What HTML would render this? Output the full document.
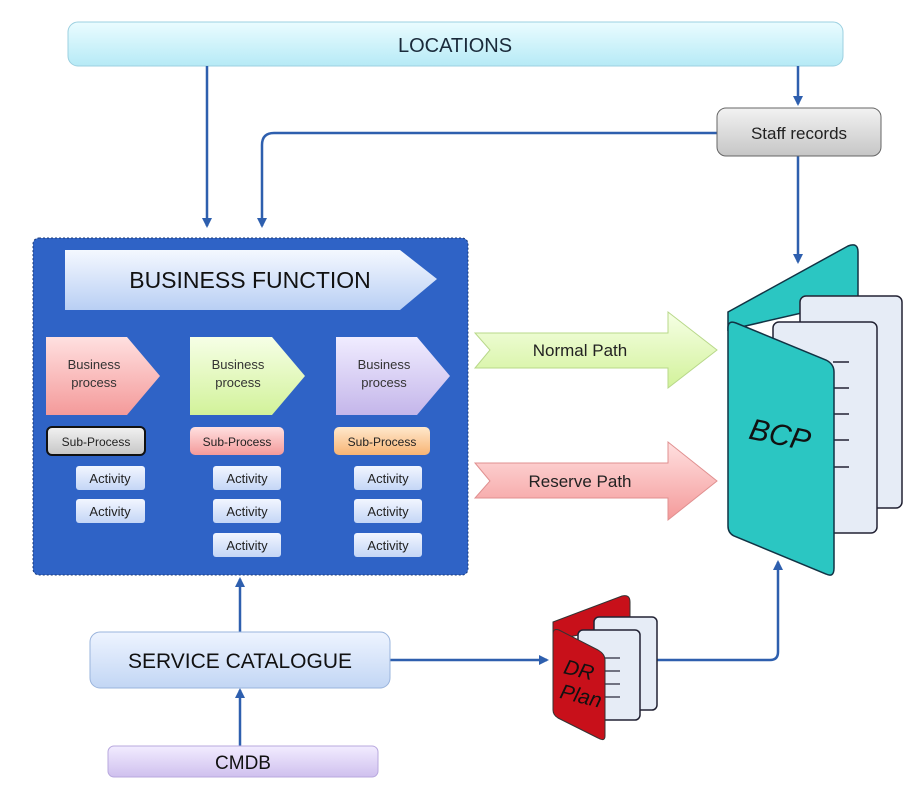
<!DOCTYPE html>
<html><head><meta charset="utf-8"><style>
html,body{margin:0;padding:0;background:#fff;}
svg{display:block;font-family:"Liberation Sans","DejaVu Sans",sans-serif;}
</style></head><body>
<svg width="914" height="799" viewBox="0 0 914 799" xmlns="http://www.w3.org/2000/svg">
<defs>
<linearGradient id="gLoc" x1="0" y1="0" x2="0" y2="1"><stop offset="0" stop-color="#eafcff"/><stop offset="1" stop-color="#b6eaf6"/></linearGradient>
<linearGradient id="gBF" x1="0" y1="0" x2="0" y2="1"><stop offset="0" stop-color="#f4f8ff"/><stop offset="1" stop-color="#b9cff4"/></linearGradient>
<linearGradient id="gPink" x1="0" y1="0" x2="0" y2="1"><stop offset="0" stop-color="#ffe0e0"/><stop offset="1" stop-color="#f49a9a"/></linearGradient>
<linearGradient id="gGreen" x1="0" y1="0" x2="0" y2="1"><stop offset="0" stop-color="#f6ffe6"/><stop offset="1" stop-color="#d2f29a"/></linearGradient>
<linearGradient id="gPurp" x1="0" y1="0" x2="0" y2="1"><stop offset="0" stop-color="#f0ecff"/><stop offset="1" stop-color="#c4b6ea"/></linearGradient>
<linearGradient id="gGrey" x1="0" y1="0" x2="0" y2="1"><stop offset="0" stop-color="#f2f2f2"/><stop offset="1" stop-color="#c6c6c6"/></linearGradient>
<linearGradient id="gOr" x1="0" y1="0" x2="0" y2="1"><stop offset="0" stop-color="#ffe8cc"/><stop offset="1" stop-color="#f7b474"/></linearGradient>
<linearGradient id="gAct" x1="0" y1="0" x2="0" y2="1"><stop offset="0" stop-color="#f2f6ff"/><stop offset="1" stop-color="#c4d6f6"/></linearGradient>
<linearGradient id="gSC" x1="0" y1="0" x2="0" y2="1"><stop offset="0" stop-color="#eef4ff"/><stop offset="1" stop-color="#c2d6f4"/></linearGradient>
<linearGradient id="gCM" x1="0" y1="0" x2="0" y2="1"><stop offset="0" stop-color="#f2ecff"/><stop offset="1" stop-color="#cfc0ee"/></linearGradient>
<marker id="ah" markerWidth="10" markerHeight="10" refX="8" refY="5" orient="auto" markerUnits="userSpaceOnUse"><path d="M0,0 L10,5 L0,10 Z" fill="#2e5fae"/></marker>
</defs>

<!-- Locations -->
<rect x="68" y="22" width="775" height="44" rx="10" fill="url(#gLoc)" stroke="#9cd0e0"/>
<text x="455" y="52" font-size="20" text-anchor="middle" fill="#1a2a3a">LOCATIONS</text>

<!-- connectors -->
<g stroke="#2e5fae" stroke-width="2.5" fill="none">
<line x1="207" y1="66" x2="207" y2="226" marker-end="url(#ah)"/>
<line x1="798" y1="66" x2="798" y2="104" marker-end="url(#ah)"/>
<path d="M717,133 H274 Q262,133 262,145 V226" marker-end="url(#ah)"/>
<line x1="798" y1="156" x2="798" y2="262" marker-end="url(#ah)"/>
<line x1="240" y1="632" x2="240" y2="579" marker-end="url(#ah)"/>
<line x1="240" y1="746" x2="240" y2="690" marker-end="url(#ah)"/>
<line x1="390" y1="660" x2="547" y2="660" marker-end="url(#ah)"/>
<path d="M652,660 H770 Q778,660 778,652 V562" marker-end="url(#ah)"/>
</g>

<!-- Staff records -->
<rect x="717" y="108" width="164" height="48" rx="9" fill="url(#gGrey)" stroke="#666"/>
<text x="799" y="139" font-size="17" text-anchor="middle" fill="#222">Staff records</text>

<!-- Business function container -->
<rect x="33" y="238" width="435" height="337" rx="6" fill="#2f63c6" stroke="#1a3a7a" stroke-dasharray="2,2"/>
<path d="M65,250 H400 L437,279 L400,310 H65 Z" fill="url(#gBF)"/>
<text x="250" y="288" font-size="23" text-anchor="middle" fill="#111">BUSINESS FUNCTION</text>

<path d="M46,337 H127 L160,376 L127,415 H46 Z" fill="url(#gPink)"/>
<text x="94" y="369" font-size="13" text-anchor="middle" fill="#333">Business</text>
<text x="94" y="387" font-size="13" text-anchor="middle" fill="#333">process</text>
<path d="M190,337 H272 L305,376 L272,415 H190 Z" fill="url(#gGreen)"/>
<text x="238" y="369" font-size="13" text-anchor="middle" fill="#333">Business</text>
<text x="238" y="387" font-size="13" text-anchor="middle" fill="#333">process</text>
<path d="M336,337 H417 L450,376 L417,415 H336 Z" fill="url(#gPurp)"/>
<text x="384" y="369" font-size="13" text-anchor="middle" fill="#333">Business</text>
<text x="384" y="387" font-size="13" text-anchor="middle" fill="#333">process</text>

<rect x="47" y="427" width="98" height="28" rx="5" fill="url(#gGrey)" stroke="#111" stroke-width="2"/>
<text x="96" y="446" font-size="12" text-anchor="middle" fill="#222">Sub-Process</text>
<rect x="190" y="427" width="94" height="28" rx="5" fill="url(#gPink)"/>
<text x="237" y="446" font-size="12" text-anchor="middle" fill="#222">Sub-Process</text>
<rect x="334" y="427" width="96" height="28" rx="5" fill="url(#gOr)"/>
<text x="382" y="446" font-size="12" text-anchor="middle" fill="#222">Sub-Process</text>

<g font-size="13" text-anchor="middle" fill="#222">
<rect x="76" y="466" width="69" height="24" rx="3" fill="url(#gAct)"/><text x="110" y="483">Activity</text>
<rect x="76" y="499" width="69" height="24" rx="3" fill="url(#gAct)"/><text x="110" y="516">Activity</text>
<rect x="213" y="466" width="68" height="24" rx="3" fill="url(#gAct)"/><text x="247" y="483">Activity</text>
<rect x="213" y="499" width="68" height="24" rx="3" fill="url(#gAct)"/><text x="247" y="516">Activity</text>
<rect x="213" y="533" width="68" height="24" rx="3" fill="url(#gAct)"/><text x="247" y="550">Activity</text>
<rect x="354" y="466" width="68" height="24" rx="3" fill="url(#gAct)"/><text x="388" y="483">Activity</text>
<rect x="354" y="499" width="68" height="24" rx="3" fill="url(#gAct)"/><text x="388" y="516">Activity</text>
<rect x="354" y="533" width="68" height="24" rx="3" fill="url(#gAct)"/><text x="388" y="550">Activity</text>
</g>

<!-- Path arrows -->
<path d="M475,333 H668 V312 L717,350 L668,388 V368 H475 L490,350 Z" fill="url(#gGreen)" stroke="#b8d88a"/>
<text x="580" y="356" font-size="17" text-anchor="middle" fill="#222">Normal Path</text>
<path d="M475,463 H668 V442 L717,481 L668,520 V498 H475 L490,481 Z" fill="url(#gPink)" stroke="#e09090"/>
<text x="580" y="487" font-size="17" text-anchor="middle" fill="#222">Reserve Path</text>

<!-- BCP -->
<path d="M728,312 L848,246 Q858,242 858,252 V300 L728,330 Z" fill="#2bc6c2" stroke="#134" stroke-width="1.5"/>
<rect x="800" y="296" width="102" height="212" rx="6" fill="#e6ecf6" stroke="#223" stroke-width="1.5"/>
<rect x="773" y="322" width="104" height="211" rx="6" fill="#e6ecf6" stroke="#223" stroke-width="1.5"/>
<g stroke="#223" stroke-width="1.5"><line x1="833" y1="362" x2="849" y2="362"/><line x1="833" y1="388" x2="849" y2="388"/><line x1="833" y1="414" x2="849" y2="414"/><line x1="833" y1="440" x2="849" y2="440"/><line x1="833" y1="467" x2="849" y2="467"/></g>
<path d="M728,328 Q728,320 736,323 L826,360 Q834,364 834,372 V568 Q834,578 826,574 L734,536 Q728,533 728,526 Z" fill="#2bc6c2" stroke="#134" stroke-width="1.5"/>
<text x="780" y="445" font-size="30" font-style="italic" text-anchor="middle" fill="#111" transform="rotate(12 780 435)">BCP</text>

<!-- DR Plan -->
<path d="M553,622 L622,596 Q630,594 630,602 V625 L553,640 Z" fill="#c8101a" stroke="#333"/>
<rect x="594" y="617" width="63" height="93" rx="5" fill="#e6ecf6" stroke="#223" stroke-width="1.5"/>
<rect x="578" y="630" width="62" height="90" rx="5" fill="#e6ecf6" stroke="#223" stroke-width="1.5"/>
<g stroke="#223" stroke-width="1.2"><line x1="604" y1="658" x2="620" y2="658"/><line x1="604" y1="671" x2="620" y2="671"/><line x1="604" y1="684" x2="620" y2="684"/><line x1="604" y1="697" x2="620" y2="697"/></g>
<path d="M553,634 Q553,628 559,630 L598,650 Q605,654 605,660 V736 Q605,742 598,738 L558,718 Q553,715 553,710 Z" fill="#c8101a" stroke="#333"/>
<text x="579" y="677" font-size="21" font-style="italic" text-anchor="middle" fill="#111" transform="rotate(14 579 670)">DR</text>
<text x="581" y="703" font-size="21" font-style="italic" text-anchor="middle" fill="#111" transform="rotate(14 581 696)">Plan</text>

<!-- Service catalogue & CMDB -->
<rect x="90" y="632" width="300" height="56" rx="10" fill="url(#gSC)" stroke="#9ab4dc"/>
<text x="240" y="668" font-size="21" text-anchor="middle" fill="#111">SERVICE CATALOGUE</text>
<rect x="108" y="746" width="270" height="31" rx="6" fill="url(#gCM)" stroke="#b8a8de"/>
<text x="243" y="769" font-size="19" text-anchor="middle" fill="#111">CMDB</text>
</svg>
</body></html>
